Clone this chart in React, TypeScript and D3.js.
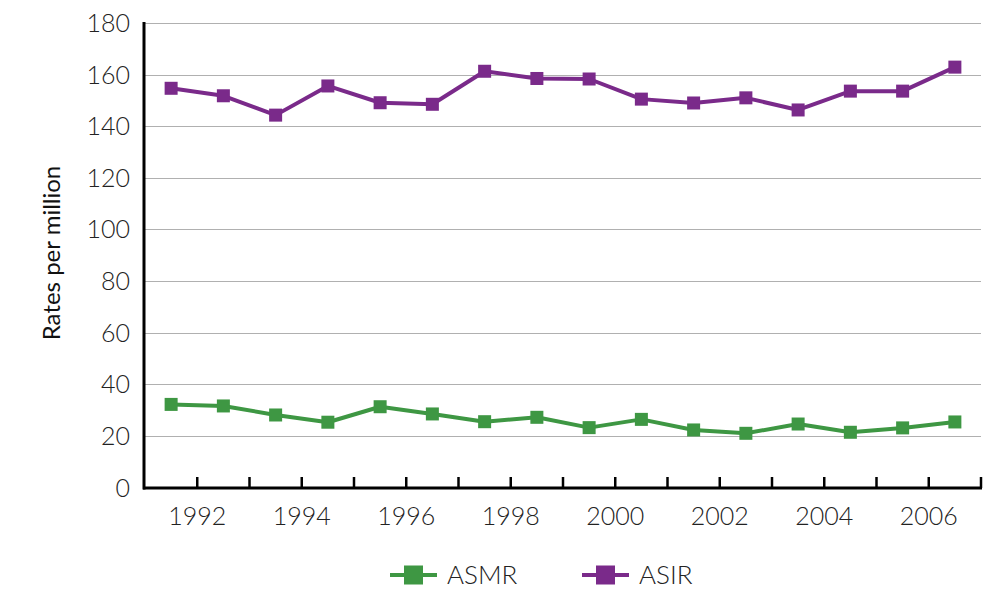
import React from "react";
import * as d3 from "d3";

// yearly rates per million
const years = [
  "1991", "1992", "1993", "1994", "1995", "1996", "1997", "1998",
  "1999", "2000", "2001", "2002", "2003", "2004", "2005", "2006",
];
const asir = [
  154.7, 151.8, 144.3, 155.6, 149.1, 148.5, 161.3, 158.5,
  158.3, 150.5, 149.0, 151.0, 146.3, 153.6, 153.6, 162.9,
];
const asmr = [
  32.2, 31.6, 28.1, 25.3, 31.3, 28.5, 25.5, 27.2,
  23.2, 26.4, 22.3, 21.0, 24.6, 21.4, 23.1, 25.4,
];
const yTicks = [0, 20, 40, 60, 80, 100, 120, 140, 160, 180];
const xLabels = ["1992", "1994", "1996", "1998", "2000", "2002", "2004", "2006"];

const GREEN = "#3e9743";
const PURPLE = "#7a2a8a";
const FONT = "Lato, 'Open Sans', sans-serif";

const width = 1001;
const height = 598;
const plot = { left: 145, right: 981, top: 23, bottom: 487.5 };

const App: React.FC = () => {
  const x = d3
    .scaleBand<string>()
    .domain(years)
    .range([plot.left, plot.right]);
  const y = d3
    .scaleLinear()
    .domain([0, 180])
    .range([plot.bottom, plot.top]);

  const cx = (d: string) => (x(d) as number) + x.bandwidth() / 2;
  const line = d3
    .line<number>()
    .x((_, i) => cx(years[i]))
    .y((v) => y(v));

  const series = [
    { name: "ASMR", values: asmr, color: GREEN },
    { name: "ASIR", values: asir, color: PURPLE },
  ];
  const legend = [
    { name: "ASMR", color: GREEN, x: 390 },
    { name: "ASIR", color: PURPLE, x: 582 },
  ];
  const tickPositions = years.map((d) => (x(d) as number) + x.bandwidth());

  return (
    <div style={{ margin: -8 }}>
      <svg width={width} height={height} style={{ display: "block", background: "#fff" }}>
        {/* gridlines */}
        {yTicks.slice(1).map((t) => (
          <line
            key={t}
            x1={plot.left}
            x2={plot.right}
            y1={Math.round(y(t)) + 0.5}
            y2={Math.round(y(t)) + 0.5}
            stroke="#b0b0b0"
            strokeWidth={1}
          />
        ))}
        {/* y tick labels */}
        {yTicks.map((t) => (
          <text
            key={t}
            x={130}
            y={y(t)}
            dy="0.36em"
            textAnchor="end"
            fontFamily={FONT}
            fontWeight={300}
            fontSize={25}
            fill="#222"
          >
            {t}
          </text>
        ))}
        <text
          transform={`translate(60,253) rotate(-90)`}
          textAnchor="middle"
          fontFamily={FONT}
          fontWeight={400}
          fontSize={24}
          fill="#111"
        >
          Rates per million
        </text>
        {/* axes */}
        <line x1={144} x2={144} y1={plot.top - 1} y2={plot.bottom + 2} stroke="#000" strokeWidth={3} />
        <line x1={143} x2={plot.right + 1} y1={488} y2={488} stroke="#000" strokeWidth={3} />
        {tickPositions.map((p, i) => (
          <line key={i} x1={p} x2={p} y1={488} y2={477} stroke="#000" strokeWidth={2.5} />
        ))}
        {xLabels.map((l) => (
          <text
            key={l}
            x={x(l) as number}
            y={516}
            dy="0.36em"
            textAnchor="middle"
            fontFamily={FONT}
            fontWeight={300}
            fontSize={25}
            fill="#222"
          >
            {l}
          </text>
        ))}
        {/* series */}
        {series.map((s) => (
          <g key={s.name}>
            <path d={line(s.values) || ""} fill="none" stroke={s.color} strokeWidth={4} strokeLinejoin="round" />
            {s.values.map((v, i) => (
              <rect
                key={i}
                x={cx(years[i]) - 6.5}
                y={y(v) - 6.5}
                width={13}
                height={13}
                fill={s.color}
              />
            ))}
          </g>
        ))}
        {/* legend */}
        {legend.map((l) => (
          <g key={l.name} transform={`translate(${l.x},575)`}>
            <line x1={0} x2={47} y1={0} y2={0} stroke={l.color} strokeWidth={4} />
            <rect x={14} y={-9.5} width={19} height={19} fill={l.color} />
            <text
              x={57}
              y={0}
              dy="0.36em"
              fontFamily={FONT}
              fontWeight={300}
              fontSize={26}
              fill="#222"
            >
              {l.name}
            </text>
          </g>
        ))}
      </svg>
    </div>
  );
};

export default App;
